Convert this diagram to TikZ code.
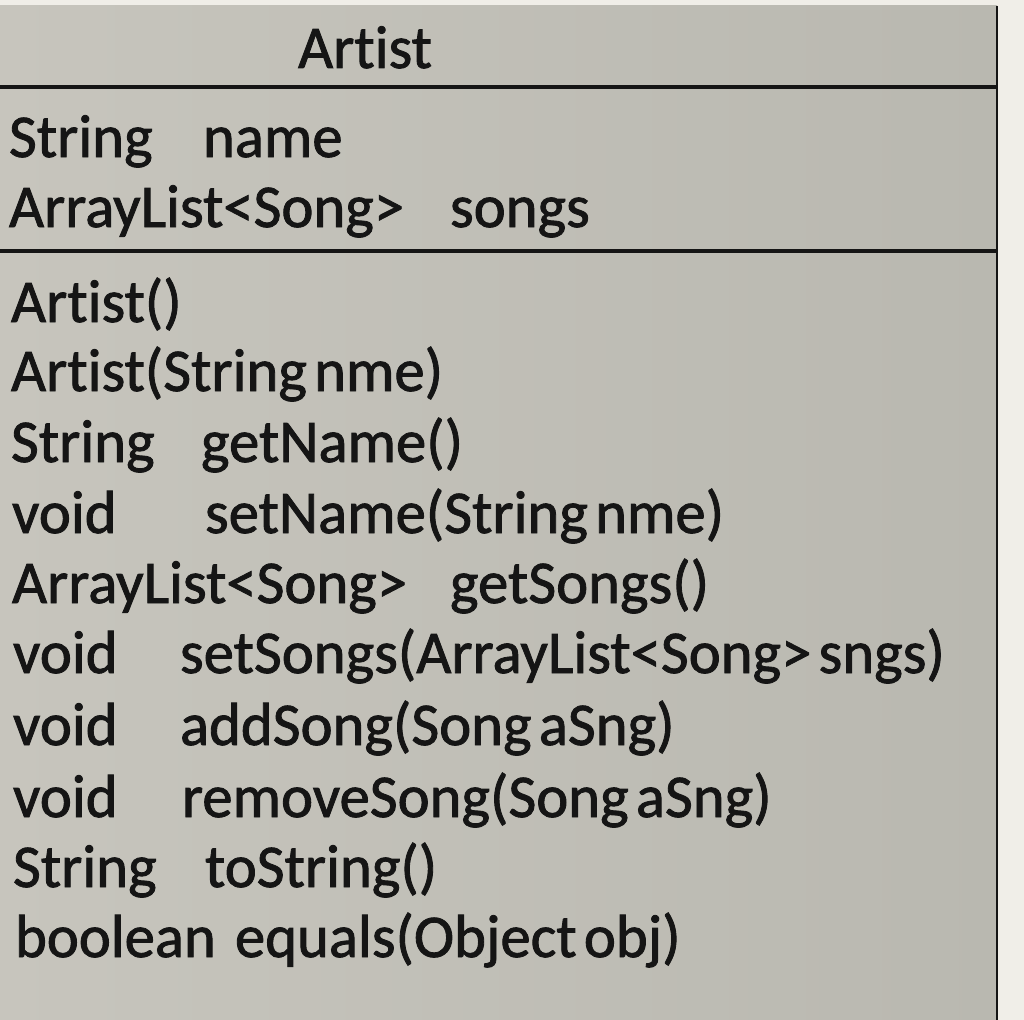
\documentclass[tikz,border=0pt]{standalone}
\usepackage{fontspec}
\setmainfont{Carlito}[Ligatures=NoCommon]
\newfontfamily\umlfont{Carlito}[Ligatures=NoCommon,FakeBold=1.4]
\begin{document}
\begin{tikzpicture}[x=0.75pt,y=-0.75pt,
  txt/.style={anchor=base west,inner sep=0pt,outer sep=0pt,text=ink,font=\fontsize{45.5}{52}\umlfont},
  ttl/.style={anchor=base,inner sep=0pt,outer sep=0pt,text=ink,font=\fontsize{45.5}{52}\umlfont},
  rule/.style={draw=ink,line width=3pt}]
\definecolor{ink}{HTML}{151515}
\definecolor{paperL}{HTML}{C7C5BD}
\definecolor{paperR}{HTML}{B9B8B0}
\definecolor{edge}{HTML}{F0EEE8}
\useasboundingbox (0,0) rectangle (1024,1020);
\fill[edge] (0,0) rectangle (1024,1020);
\shade[left color=paperL,right color=paperR] (0,6) rectangle (997,1020);
\draw[ink,line width=1pt] (997,6) -- (997,1020);
\coordinate (l1a) at (0,87); \coordinate (l1b) at (997,87);
\coordinate (l2a) at (0,251); \coordinate (l2b) at (997,251);
\draw[rule] (l1a) -- (l1b);
\draw[rule] (l2a) -- (l2b);
\node[ttl] (title) at (365,68) {Artist};
\node[txt] (a1t) at (9,157) {String};
\node[txt] (a1n) at (203,157) {name};
\node[txt] (a2t) at (9,227) {ArrayList<Song>};
\node[txt] (a2n) at (450,227) {songs};
\node[txt] (m1) at (11,322) {Artist()};
\node[txt] (m2) at (11,391) {Artist(String\hspace{0.12em}nme)};
\node[txt] (m3t) at (11,462) {String};
\node[txt] (m3n) at (201,462) {getName()};
\node[txt] (m4t) at (12,533) {void};
\node[txt] (m4n) at (205,533) {setName(String\hspace{0.12em}nme)};
\node[txt] (m5t) at (12,603) {ArrayList<Song>};
\node[txt] (m5n) at (450,603) {getSongs()};
\node[txt] (m6t) at (13,673) {void};
\node[txt] (m6n) at (180,673) {setSongs(ArrayList<Song>\hspace{0.12em}sngs)};
\node[txt] (m7t) at (13,745) {void};
\node[txt] (m7n) at (180,745) {addSong(Song\hspace{0.12em}aSng)};
\node[txt] (m8t) at (13,817) {void};
\node[txt] (m8n) at (182,817) {removeSong(Song\hspace{0.12em}aSng)};
\node[txt] (m9t) at (13,887) {String};
\node[txt] (m9n) at (205,887) {toString()};
\node[txt] (m10t) at (15,957) {boolean};
\node[txt] (m10n) at (235,957) {equals(Object\hspace{0.12em}obj)};
\end{tikzpicture}
\end{document}
